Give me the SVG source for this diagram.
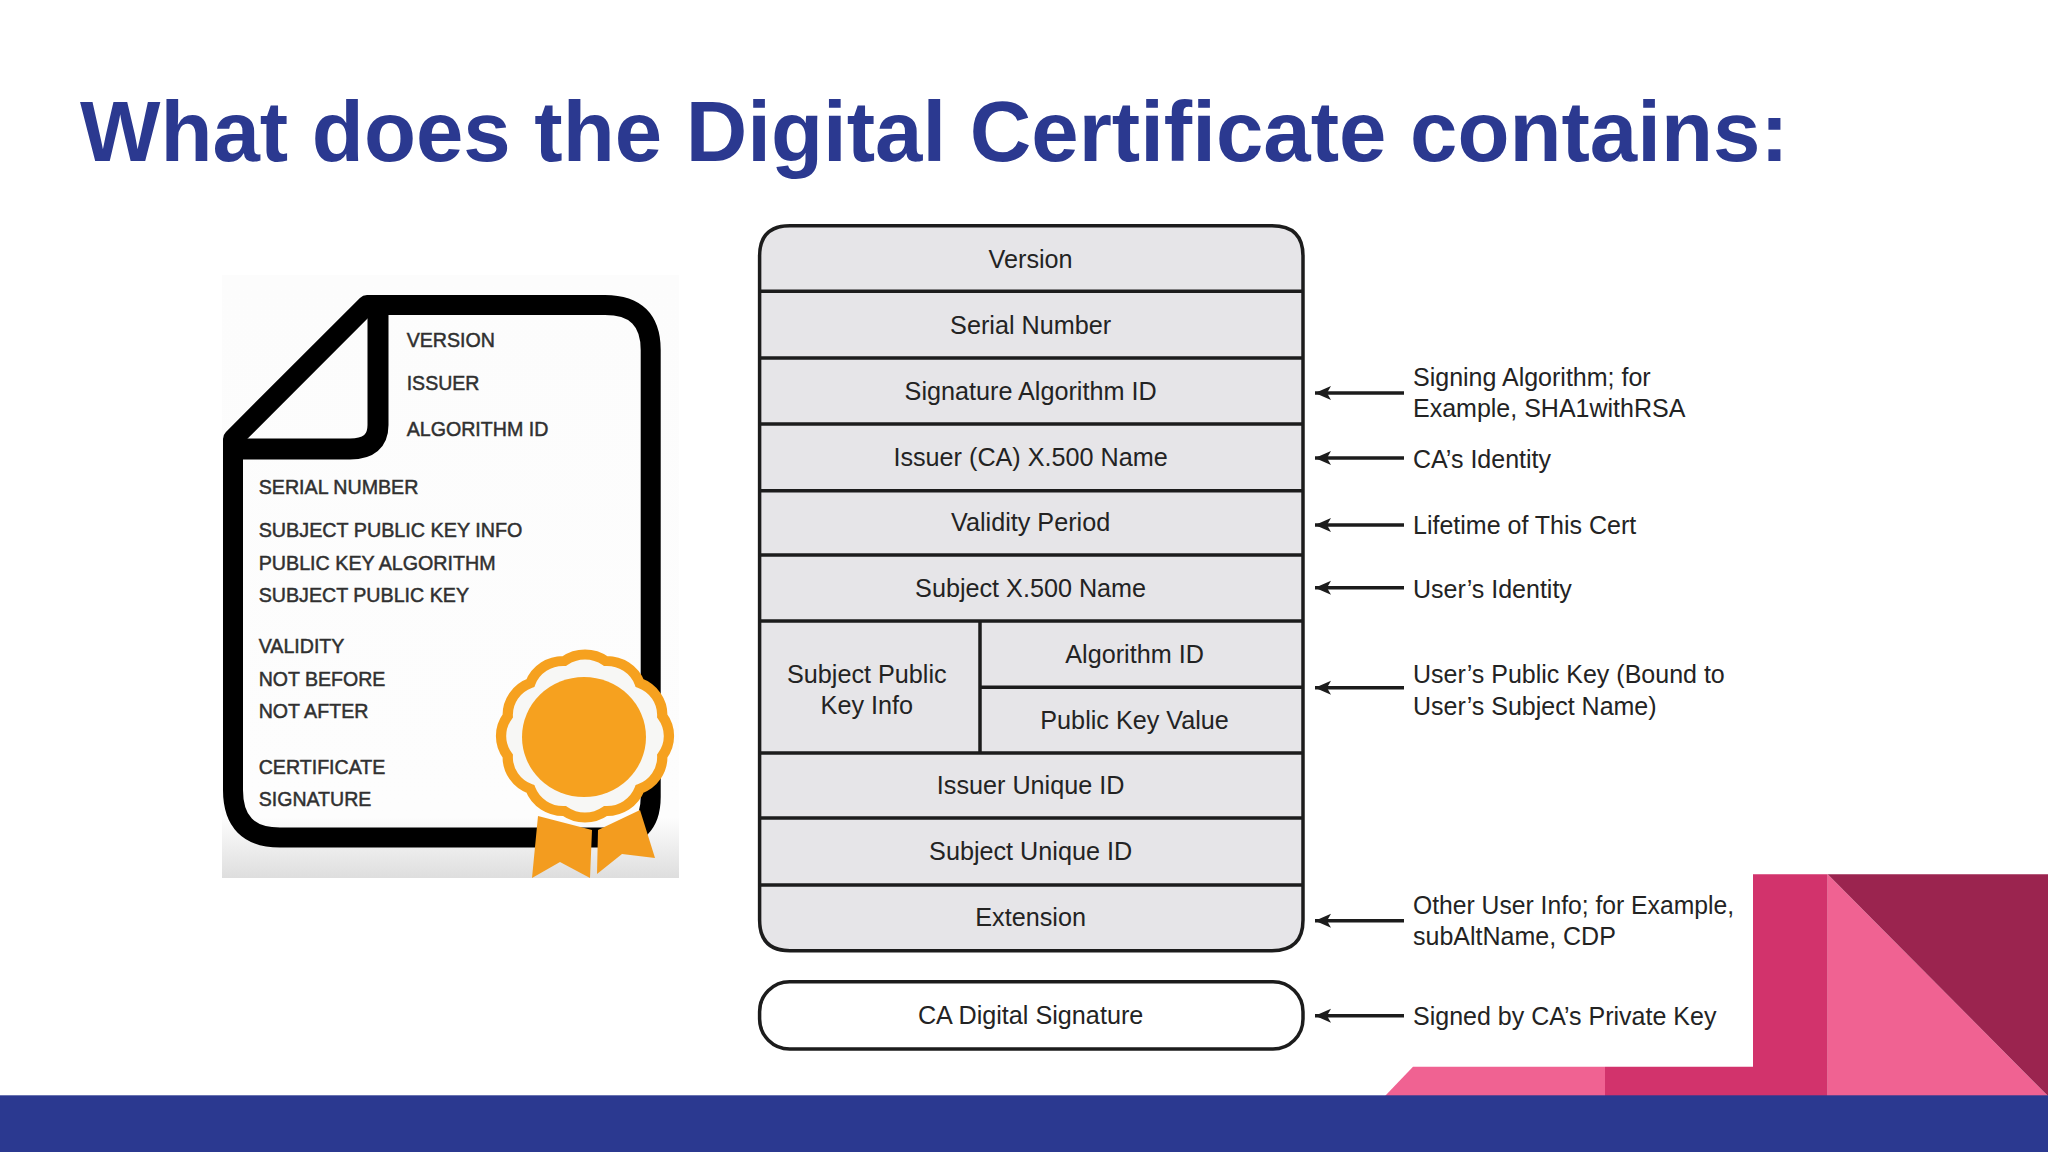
<svg xmlns="http://www.w3.org/2000/svg" width="2048" height="1152" viewBox="0 0 2048 1152">
<defs>
<linearGradient id="panelFade" x1="0" y1="0" x2="0" y2="1"><stop offset="0" stop-color="#fcfcfc"/><stop offset="0.9" stop-color="#fdfdfd"/><stop offset="1" stop-color="#dedede"/></linearGradient>
<marker id="arrow" markerUnits="userSpaceOnUse" markerWidth="18" markerHeight="16" refX="1" refY="8" orient="auto"><path d="M17 1 L1 8 L17 15 L13 8 Z" fill="#1c1c1c"/></marker>
</defs>
<style>
text{font-family:"Liberation Sans",Arial,sans-serif}
.title{font-size:85.2px;font-weight:700;fill:#2b3990}
.cell{font-size:25.2px;fill:#232323;text-anchor:middle}
.note{font-size:25px;fill:#232323}
.doc{font-size:21px;fill:#303030;stroke:#303030;stroke-width:.5}
.row{fill:none;stroke:#1c1c1c;stroke-width:3.5}
.conn{stroke:#1c1c1c;stroke-width:3.5;fill:none;marker-start:url(#arrow)}
</style>
<rect width="2048" height="1152" fill="#fff"/>
<g id="decor">
<polygon points="1385,1096 1413,1066.7 1605,1066.7 1605,1096" fill="#f06292"/>
<polygon points="1605,1066.7 1753,1066.7 1753,874.3 1827.7,874.3 1827.7,1096 1605,1096" fill="#d2336c"/>
<polygon points="1827.7,874.3 2048,1096 1827.7,1096" fill="#f06292"/>
<polygon points="1827.7,874.3 2048,874.3 2048,1096" fill="#9b244f"/>
<rect x="0" y="1095.3" width="2048" height="56.7" fill="#2b3990"/>
</g>
<text class="title" x="80" y="161">What does the Digital Certificate contains:</text>
<g id="certificate-icon">
<rect x="222" y="275" width="457" height="603" fill="url(#panelFade)"/>
<path d="M233 439 L367 305 H605 Q650.7 305 650.7 350 V797 Q650.7 837.5 610 837.5 H280 Q233 837.5 233 790 Z" fill="none" stroke="#000" stroke-width="20" stroke-linejoin="round"/>
<path d="M378 305 V425 Q378 449 350 449 H233" fill="none" stroke="#000" stroke-width="21"/>
<text class="doc" x="406.700" y="346.500" textLength="88.300" lengthAdjust="spacingAndGlyphs">VERSION</text>
<text class="doc" x="406.700" y="389.500" textLength="72.700" lengthAdjust="spacingAndGlyphs">ISSUER</text>
<text class="doc" x="406.700" y="436" textLength="141.700" lengthAdjust="spacingAndGlyphs">ALGORITHM ID</text>
<text class="doc" x="258.700" y="494" textLength="159.700" lengthAdjust="spacingAndGlyphs">SERIAL NUMBER</text>
<text class="doc" x="258.700" y="537" textLength="263.700" lengthAdjust="spacingAndGlyphs">SUBJECT PUBLIC KEY INFO</text>
<text class="doc" x="258.700" y="570" textLength="237" lengthAdjust="spacingAndGlyphs">PUBLIC KEY ALGORITHM</text>
<text class="doc" x="258.700" y="602" textLength="210.300" lengthAdjust="spacingAndGlyphs">SUBJECT PUBLIC KEY</text>
<text class="doc" x="258.700" y="653" textLength="85.700" lengthAdjust="spacingAndGlyphs">VALIDITY</text>
<text class="doc" x="258.700" y="685.500" textLength="126.700" lengthAdjust="spacingAndGlyphs">NOT BEFORE</text>
<text class="doc" x="258.700" y="718" textLength="109.700" lengthAdjust="spacingAndGlyphs">NOT AFTER</text>
<text class="doc" x="258.700" y="774" textLength="126.700" lengthAdjust="spacingAndGlyphs">CERTIFICATE</text>
<text class="doc" x="258.700" y="806" textLength="112.700" lengthAdjust="spacingAndGlyphs">SIGNATURE</text>
<polygon points="538,816 592,830 590,878 560,862 532,878" fill="#f39c1f"/>
<polygon points="598,830 640,810 655,858 622,854 597,874" fill="#f39c1f"/>
<path transform="translate(585 736) scale(1.03 1)" d="M75 20 A34 34 0 0 1 53 53 A34 34 0 0 1 20 75 A34 34 0 0 1 -20 75 A34 34 0 0 1 -53 53 A34 34 0 0 1 -75 20 A34 34 0 0 1 -75 -20 A34 34 0 0 1 -53 -53 A34 34 0 0 1 -20 -75 A34 34 0 0 1 20 -75 A34 34 0 0 1 53 -53 A34 34 0 0 1 75 -20 A34 34 0 0 1 75 20 Z" fill="#f7f7f5" stroke="#f6a11f" stroke-width="10"/>
<ellipse cx="584" cy="737" rx="62" ry="60" fill="#f6a11f"/>
</g>
<g id="certificate-table">
<path d="M790 225.700 H1272 Q1303 225.700 1303 256 V920 Q1303 950.700 1272 950.700 H790 Q759.600 950.700 759.600 920 V256 Q759.600 225.700 790 225.700 Z" fill="#e6e5e8" stroke="#1c1c1c" stroke-width="3.500"/>
<path class="row" d="M759.600 291.300 H1303 M759.600 358 H1303 M759.600 424 H1303 M759.600 490.700 H1303 M759.600 555 H1303 M759.600 621 H1303 M980 687.300 H1303 M759.600 753 H1303 M759.600 818 H1303 M759.600 885 H1303 M980 621 V753"/>
</g>
<g id="version"><text class="cell" x="1030.600" y="268">Version</text></g>
<g id="serial-number"><text class="cell" x="1030.600" y="334">Serial Number</text></g>
<g id="signature-algorithm-id"><text class="cell" x="1030.600" y="400">Signature Algorithm ID</text></g>
<g id="issuer-name"><text class="cell" x="1030.600" y="466">Issuer (CA) X.500 Name</text></g>
<g id="validity-period"><text class="cell" x="1030.600" y="530.700">Validity Period</text></g>
<g id="subject-name"><text class="cell" x="1030.600" y="596.700">Subject X.500 Name</text></g>
<g id="subject-public-key-info"><text class="cell" x="866.800" y="682.700">Subject Public</text><text class="cell" x="866.800" y="713.700">Key Info</text></g>
<g id="algorithm-id"><text class="cell" x="1134.600" y="663">Algorithm ID</text></g>
<g id="public-key-value"><text class="cell" x="1134.600" y="729">Public Key Value</text></g>
<g id="issuer-unique-id"><text class="cell" x="1030.600" y="794">Issuer Unique ID</text></g>
<g id="subject-unique-id"><text class="cell" x="1030.600" y="860">Subject Unique ID</text></g>
<g id="extension"><text class="cell" x="1030.600" y="926">Extension</text></g>
<g id="ca-digital-signature">
<rect x="759.600" y="981.700" width="543.400" height="67.300" rx="30" ry="30" fill="#fff" stroke="#1c1c1c" stroke-width="3.500"/>
<text class="cell" x="1030.600" y="1024">CA Digital Signature</text>
</g>
<g id="connectors">
<path class="conn" d="M1315 393 H1404"/>
<path class="conn" d="M1315 458 H1404"/>
<path class="conn" d="M1315 525 H1404"/>
<path class="conn" d="M1315 587.700 H1404"/>
<path class="conn" d="M1315 687.700 H1404"/>
<path class="conn" d="M1315 920.700 H1404"/>
<path class="conn" d="M1315 1015.700 H1404"/>
</g>
<g id="notes">
<text class="note" x="1413" y="386">Signing Algorithm; for</text>
<text class="note" x="1413" y="417">Example, SHA1withRSA</text>
<text class="note" x="1413" y="468">CA’s Identity</text>
<text class="note" x="1413" y="534">Lifetime of This Cert</text>
<text class="note" x="1413" y="598">User’s Identity</text>
<text class="note" x="1413" y="683">User’s Public Key (Bound to</text>
<text class="note" x="1413" y="715">User’s Subject Name)</text>
<text class="note" x="1413" y="914" textLength="321" lengthAdjust="spacingAndGlyphs">Other User Info; for Example,</text>
<text class="note" x="1413" y="945">subAltName, CDP</text>
<text class="note" x="1413" y="1025">Signed by CA’s Private Key</text>
</g>
</svg>
